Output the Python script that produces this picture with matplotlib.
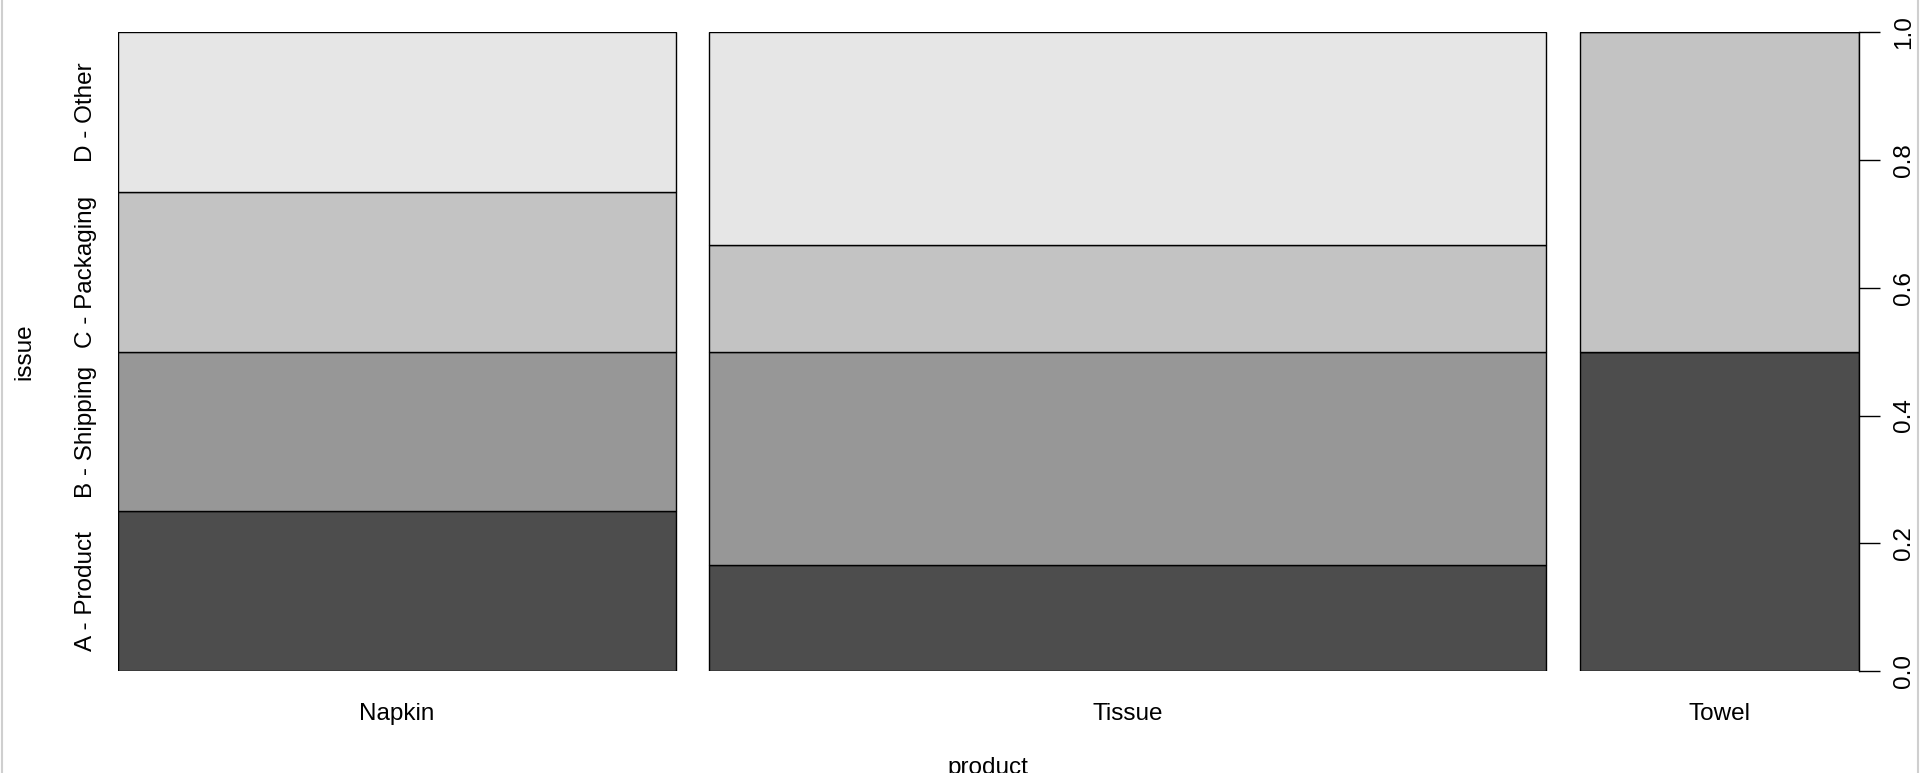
import numpy as np
import matplotlib
matplotlib.use('Agg')
import matplotlib.pyplot as plt
from matplotlib.lines import Line2D

plt.rcParams['font.family'] = ['Liberation Sans', 'DejaVu Sans']

# donnees du spineplot (nombre de cas par produit et par probleme)
products = ['Napkin', 'Tissue', 'Towel']
issues = ['A - Product', 'B - Shipping', 'C - Packaging', 'D - Other']
count_a = [1, 1, 1]
count_b = [1, 2, 0]
count_c = [1, 1, 1]
count_d = [1, 2, 0]
colors = ['#4D4D4D', '#979797', '#C3C3C3', '#E6E6E6']
y_ticks = [0.0, 0.2, 0.4, 0.6, 0.8, 1.0]

counts = np.array([count_a, count_b, count_c, count_d], dtype=float)
totals = counts.sum(axis=0)
widths = totals / totals.sum()
off = 0.02
lefts = np.concatenate([[0], np.cumsum(widths + off)[:-1]])
props = counts / totals

fs = 17.5

fig = plt.figure(figsize=(19.2, 7.73), dpi=100)
ax = fig.add_axes([0.0612, 0.1315, 0.9681 - 0.0612, 0.9588 - 0.1315])

bottom = np.zeros(len(products))
for i in range(len(issues)):
    ax.bar(lefts, props[i], width=widths, bottom=bottom, align='edge',
           color=colors[i], edgecolor='black', linewidth=1.0)
    bottom += props[i]

ax.set_xlim(0, 1 + off * (len(products) - 1))
ax.set_ylim(0, 1)
for s in ['left', 'top', 'bottom', 'right']:
    ax.spines[s].set_visible(False)

# etiquettes de gauche : milieux de la premiere colonne
first = np.concatenate([[0], np.cumsum(props[:, 0])])
yat = (first[:-1] + first[1:]) / 2
ax.set_yticks(yat)
ax.set_yticklabels(issues, rotation=90, va='center', fontsize=fs)
ax.tick_params(axis='y', length=0, pad=15)

ax.set_xticks(lefts + widths / 2)
ax.set_xticklabels(products, fontsize=fs)
ax.tick_params(axis='x', length=0, pad=23)

ax.set_ylabel('issue', fontsize=fs, labelpad=28)

# titre de l'axe x, coupe en bas comme dans l'original
fig.text(ax.get_position().x0 + ax.get_position().width / 2, 0.006, 'product',
         ha='center', va='center', fontsize=fs)

# axe de droite
ax2 = ax.twinx()
ax2.set_ylim(0, 1)
for s in ['left', 'top', 'bottom']:
    ax2.spines[s].set_visible(False)
ax2.spines['right'].set_linewidth(1.0)
ax2.set_yticks(y_ticks)
ax2.set_yticklabels([f'{v:.1f}' for v in y_ticks], rotation=90, va='center', fontsize=fs)
ax2.tick_params(axis='y', length=15, width=1.0, pad=10)

# bordure de la fenetre
fig.add_artist(Line2D([0.0008, 0.0008], [0, 1], color='#cfcfcf', linewidth=1.5,
                      transform=fig.transFigure))
fig.add_artist(Line2D([0.9992, 0.9992], [0, 1], color='#cfcfcf', linewidth=1.5,
                      transform=fig.transFigure))

fig.savefig('out.png', dpi=100)
